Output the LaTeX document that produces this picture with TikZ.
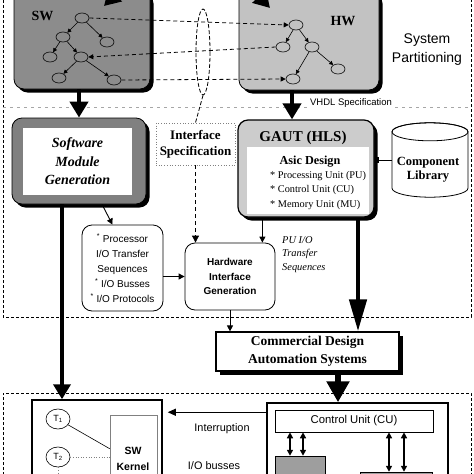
\documentclass[tikz,border=0pt]{standalone}
\usepackage{fontspec}
\setmainfont{Liberation Serif}
\setsansfont{Liberation Sans}
\usetikzlibrary{calc,arrows.meta,shapes.geometric,shadows}

\definecolor{swgray}{gray}{0.55}
\definecolor{hwgray}{gray}{0.76}
\definecolor{gautgray}{gray}{0.80}
\definecolor{smggray}{gray}{0.50}
\definecolor{unitgray}{gray}{0.62}

\begin{document}
\begin{tikzpicture}[x=1pt,y=-1pt,
        bigarrow/.style={line width=4.5pt,-{Triangle[length=16pt,width=18pt]}},
        thinarrow/.style={line width=0.9pt,-{Triangle[length=6pt,width=6pt]}},
        dasharrow/.style={line width=0.8pt,dash pattern=on 4pt off 3pt,-{Triangle[length=5pt,width=5pt]}},
    ]
    \useasboundingbox (0,0) rectangle (474,474);
    \clip (0,0) rectangle (474,474);
    % boxes with a black shadow
    \tikzstyle{shadowed}=[drop shadow={shadow xshift=3.5pt,shadow yshift=-3.5pt,fill=black,opacity=1}]
    \tikzstyle{roundbox}=[draw, rounded corners=10pt, inner sep=0]
    % tree nodes
    \tikzstyle{tnode}=[ellipse, draw, line width=0.6pt, minimum width=14pt, minimum height=10pt, inner sep=0]
    \tikzstyle{tedge}=[line width=0.6pt, -{Triangle[length=4pt,width=4pt]}]
    % fonts
    \tikzstyle{rmbold}=[font=\fontsize{13}{15}\selectfont\bfseries, align=center, inner sep=1pt]
    \tikzstyle{sflabel}=[font=\sffamily\fontsize{10}{14.5}\selectfont, align=center, inner sep=1pt]

    % partitioning frame
    \draw[line width=0.7pt, dash pattern=on 3pt off 2pt] (3,-5) -- (3,317) -- (471,317) -- (471,-5);
    \draw[gray!70, line width=0.6pt, dash pattern=on 3pt off 4pt] (3,107) -- (471,107);

    % SW / HW partitions
    \node[roundbox, fill=swgray, line width=0.8pt, shadowed, minimum width=136pt, minimum height=99pt] (sw) at (82,39.5) {};
    \node[roundbox, fill=hwgray, line width=0.8pt, shadowed, minimum width=140pt, minimum height=100pt] (hw) at (309,40) {};
    \node[rmbold, font=\fontsize{14}{16}\selectfont\bfseries] (swlabel) at (42.5,16) {SW};
    \node[rmbold, font=\fontsize{14}{16}\selectfont\bfseries] (hwlabel) at (343,21) {HW};
    \coordinate (swin0) at (150,-40);
    \coordinate (swin) at (104,6);
    \coordinate (hwin0) at (225,-40);
    \coordinate (hwin) at (270,8);
    \draw[bigarrow] (swin0) -- (swin);
    \draw[bigarrow] (hwin0) -- (hwin);

    \node[tnode] (sw1) at (82,18) {};
    \node[tnode] (sw2) at ($(sw1)+(-19,19)$) {};
    \node[tnode] (sw3) at ($(sw1)+(25,24)$) {};
    \node[tnode] (sw4) at ($(sw2)+(-13,20)$) {};
    \node[tnode] (sw5) at ($(sw2)+(18,20)$) {};
    \node[tnode] (sw6) at ($(sw5)+(-22,21)$) {};
    \node[tnode] (sw7) at ($(sw5)+(33,23)$) {};
    \draw[tedge] (sw1) -- (sw2);
    \draw[tedge] (sw1) -- (sw3);
    \draw[tedge] (sw2) -- (sw4);
    \draw[tedge] (sw2) -- (sw5);
    \draw[tedge] (sw5) -- (sw6);
    \draw[tedge] (sw5) -- (sw7);

    \node[tnode] (hw1) at (296,25) {};
    \node[tnode] (hw2) at ($(hw1)+(-13,22)$) {};
    \node[tnode] (hw3) at ($(hw1)+(16,22)$) {};
    \node[tnode] (hw4) at ($(hw3)+(26,22)$) {};
    \node[tnode] (hw5) at ($(hw3)+(-19,32)$) {};
    \draw[tedge] (hw1) -- (hw2);
    \draw[tedge] (hw1) -- (hw3);
    \draw[tedge] (hw3) -- (hw4);
    \draw[tedge] (hw3) -- (hw5);

    \draw[dasharrow] (sw1.east) -- (hw1.west);
    \draw[dasharrow] (hw2.west) -- (sw5.east);
    \draw[dasharrow] (sw7.east) -- (hw5.west);

    \node[ellipse, draw, line width=0.8pt, dash pattern=on 4pt off 2pt, minimum width=14pt, minimum height=86pt, inner sep=0] (link) at (203,52) {};

    \node[sflabel, font=\sffamily\fontsize{14}{19}\selectfont] (syspart) at (427,50) {System\\Partitioning};
    \node[sflabel, font=\sffamily\fontsize{9.5}{11}\selectfont, fill=white] (vhdl) at (351,103) {VHDL Specification};

    % synthesis
    \node[roundbox, fill=smggray, line width=0.8pt, shadowed, minimum width=134pt, minimum height=86pt] (smg) at (79,161) {};
    \node[fill=white, minimum width=109pt, minimum height=67pt, inner sep=0, font=\fontsize{14}{18.5}\selectfont\bfseries\itshape, align=center] (smgtext) at (77.5,161.5) {Software\\Module\\Generation};
    \node[draw, gray, line width=0.7pt, dotted, minimum width=79pt, minimum height=42pt, inner sep=0] (intspec) at (195.5,144) {};
    \node[rmbold, font=\fontsize{13}{16}\selectfont\bfseries] (intspectext) at (intspec) {Interface\\Specification};

    \node[roundbox, fill=gautgray, line width=1.2pt, shadowed, minimum width=136pt, minimum height=97pt] (gaut) at (306,168.5) {};
    \node[rmbold, font=\fontsize{15}{17}\selectfont\bfseries] (gauttitle) at (303,138) {GAUT (HLS)};
    \node[fill=white, minimum width=122pt, minimum height=67pt, inner sep=0] (asic) at (308,180.5) {};
    \node[rmbold, font=\fontsize{12.2}{14}\selectfont\bfseries] (asictitle) at (310,162) {Asic Design};
    \node[anchor=west, align=left, inner sep=0, font=\fontsize{10.3}{14.5}\selectfont] (asiclist) at (270,190.5) {* Processing Unit (PU)\\* Control Unit (CU)\\* Memory Unit (MU)};

    % component library drum
    \node[minimum width=76pt, minimum height=74pt, inner sep=0] (lib) at (430,160) {};
    \coordinate (libtop) at ($(lib.north)+(0,9)$);
    \coordinate (libbot) at ($(lib.south)+(0,-9)$);
    \draw[line width=0.8pt, fill=white] ($(libtop)+(-38,0)$) -- ($(libbot)+(-38,0)$)
        arc[start angle=180, end angle=0, x radius=38, y radius=9] -- ($(libtop)+(38,0)$)
        arc[start angle=0, end angle=-180, x radius=38, y radius=9] -- cycle;
    \draw[line width=0.8pt] (libtop) ellipse [x radius=38, y radius=9];
    \node[rmbold, font=\fontsize{12.5}{14}\selectfont\bfseries] (libtext) at (428,170) {Component\\Library};
    \draw[line width=1pt, {Square[length=4pt,width=6pt]}-] (gaut.east |- lib.west) -- (lib.west);

    \node[roundbox, line width=0.8pt, minimum width=81pt, minimum height=86pt, font=\sffamily\fontsize{10}{15}\selectfont, align=center] (proc) at (122.5,268) {\textsuperscript{*} Processor\\I/O Transfer\\Sequences\\\textsuperscript{*} I/O Busses\\\textsuperscript{*} I/O Protocols};
    \node[roundbox, line width=0.8pt, minimum width=90pt, minimum height=67pt, font=\sffamily\bfseries\fontsize{10}{14.5}\selectfont, align=center] (hig) at (230,276.5) {Hardware\\Interface\\Generation};
    \node[anchor=north west, align=left, inner sep=0, font=\fontsize{10.4}{13.5}\selectfont\itshape] (puio) at (282,236) {PU I/O\\Transfer\\Sequences};

    \node[draw, fill=white, line width=1.2pt, shadowed, minimum width=183pt, minimum height=39pt, inner sep=0] (cdas) at (307.5,351.5) {};
    \node[rmbold, font=\fontsize{13.5}{18}\selectfont\bfseries] (cdastext) at (cdas) {Commercial Design\\Automation Systems};

    % arrows of the flow
    \draw[bigarrow] (smg.north |- sw.south) -- (smg.north);
    \coordinate (hwout) at ($(hw.south)+(-17,0)$);
    \draw[bigarrow] (hwout) -- (hwout |- gaut.north);
    \draw[line width=0.8pt, dash pattern=on 4pt off 2pt] (link.south) -- (intspec.north);
    \draw[dasharrow, -{Triangle[length=7pt,width=7pt]}] (intspec.south) -- (intspec.south |- hig.north);
    \draw[thinarrow] ($(smg.south)+(23,0)$) -- ($(proc.north)+(-10,0)$);
    \draw[thinarrow] (proc.east |- hig.west) -- (hig.west);
    \coordinate (higin) at ($(hig.north east)+(-13,0)$);
    \draw[thinarrow] (higin |- gaut.south) -- (higin);
    \draw[thinarrow] (hig.south) -- (hig.south |- cdas.north);
    \coordinate (cdasin) at ($(cdas.north)+(50.5,0)$);
    \draw[line width=4.5pt, -{Triangle[length=32pt,width=17pt]}] (cdasin |- gaut.south) -- (cdasin);

    % target architecture
    \draw[line width=0.7pt, dash pattern=on 3pt off 2pt] (3,490) -- (3,393) -- (471,393) -- (471,490);
    \node[draw, line width=1.5pt, minimum width=130pt, minimum height=100pt, inner sep=0] (swbot) at (97,450) {};
    \node[draw, gray, line width=0.6pt, minimum width=47pt, minimum height=85pt, inner sep=0] (kernel) at (133.5,457.5) {};
    \node[sflabel, font=\sffamily\bfseries\fontsize{10.5}{16}\selectfont] (kerneltext) at (133,458.5) {SW\\Kernel};
    \node[ellipse, draw, line width=0.6pt, minimum width=24pt, minimum height=20pt, inner sep=0, font=\sffamily\fontsize{9}{10}\selectfont] (t1) at (58,419) {T\textsubscript{1}};
    \node[ellipse, draw, line width=0.6pt, minimum width=24pt, minimum height=20pt, inner sep=0, font=\sffamily\fontsize{9}{10}\selectfont] (t2) at (58,457) {T\textsubscript{2}};
    \coordinate (kin) at ($(kernel.north west)+(0,34)$);
    \coordinate (t3) at ($(t2)+(0,40)$);
    \draw[line width=0.6pt] (t1.-30) -- (kin);
    \draw[gray, line width=0.6pt, dotted] (t2.east) -- (t2.east -| kernel.west);
    \draw[gray, line width=0.6pt, dotted] (t2.south) -- (t3);

    \node[draw, line width=1.5pt, minimum width=181pt, minimum height=97pt, inner sep=0] (hwbot) at (357.5,451.5) {};
    \node[draw, line width=0.6pt, minimum width=158pt, minimum height=22pt, inner sep=0, font=\sffamily\fontsize{11.3}{13}\selectfont] (cu) at (354,421) {Control Unit (CU)};
    \node[draw, line width=0.5pt, fill=unitgray, minimum width=50pt, minimum height=44pt, inner sep=0] (unit1) at (300,478) {};
    \node[draw, line width=0.5pt, fill=unitgray, minimum width=72pt, minimum height=28pt, inner sep=0] (unit2) at (396,486) {};
    \foreach \dx in {-10,3} {
        \coordinate (u1) at ($(unit1.north)+(\dx,0)$);
        \draw[line width=1.5pt, {Triangle[length=6pt,width=6pt]}-{Triangle[length=6pt,width=6pt]}] (u1 |- cu.south) -- (u1);
    }
    \foreach \dx in {-7,8} {
        \coordinate (u2) at ($(unit2.north)+(\dx,0)$);
        \draw[line width=1.5pt, {Triangle[length=6pt,width=6pt]}-{Triangle[length=6pt,width=6pt]}] (u2 |- cu.south) -- (u2);
    }

    \coordinate (smgout) at ($(smg.south)+(-17,0)$);
    \draw[line width=4pt, -{Triangle[length=15pt,width=17pt]}] (smgout) -- (smgout |- swbot.north);
    \coordinate (cuin) at ($(cdas.south)+(30.5,0)$);
    \draw[line width=6pt, -{Triangle[length=21pt,width=22pt]}] (cuin) -- (cuin |- hwbot.north);
    \coordinate (irq) at ($(hwbot.north west)+(0,10)$);
    \draw[thinarrow, shorten >=5pt, -{Triangle[length=8pt,width=7pt]}] (irq) -- (irq -| swbot.east);
    \node[sflabel, font=\sffamily\fontsize{10.9}{13}\selectfont] (irqtext) at (222,429) {Interruption};
    \node[sflabel, font=\sffamily\fontsize{10.9}{13}\selectfont] (busses) at (214,466) {I/O busses};
\end{tikzpicture}
\end{document}
